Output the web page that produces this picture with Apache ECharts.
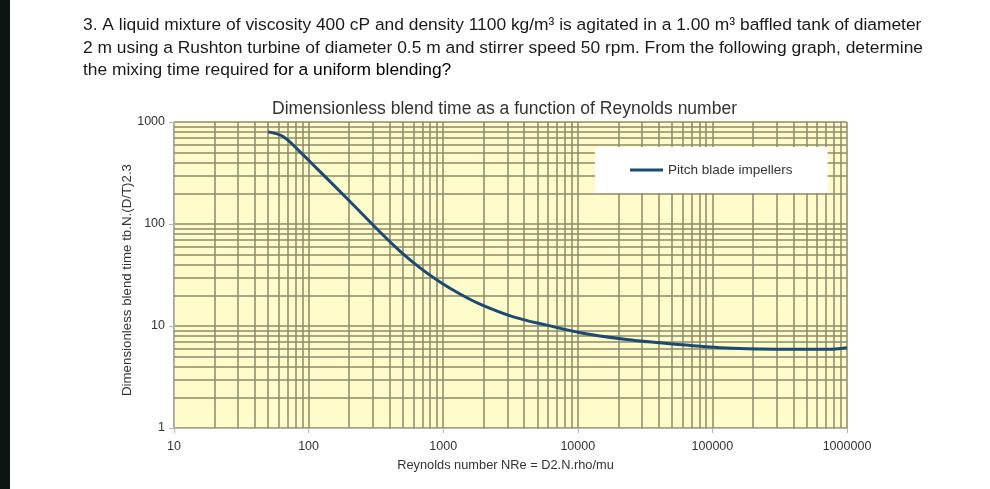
<!DOCTYPE html>
<html>
<head>
<meta charset="utf-8">
<script src="https://cdn.jsdelivr.net/npm/echarts@6/dist/echarts.min.js"></script>
<style>html,body{margin:0;padding:0;background:#fff;}#c{width:990px;height:489px;}</style>
</head>
<body>
<div id="c"></div>
<script>
// ---- data ----
const reynolds = [50, 65, 86, 115, 203, 339, 477, 673, 946, 1333, 1876, 3318, 5870, 10380, 23000, 40800, 72100, 127600, 226000, 399000, 706000, 1000000];
const blendTime = [800, 718, 512, 351, 166, 83.5, 54.3, 37.1, 27.0, 20.6, 16.4, 12.3, 10.2, 8.6, 7.39, 6.85, 6.41, 6.08, 5.95, 5.91, 5.91, 6.12];
const xMinorTicks = [20,30,40,50,60,70,80,90,200,300,400,500,600,700,800,900,2000,3000,4000,5000,6000,7000,8000,9000,20000,30000,40000,50000,60000,70000,80000,90000,200000,300000,400000,500000,600000,700000,800000,900000];
const yMinorTicks = [2,3,4,5,6,7,8,9,20,30,40,50,60,70,80,90,200,300,400,500,600,700,800,900];
const seriesName = 'Pitch blade impellers';
const questionText = '3. A liquid mixture of viscosity 400 cP and density 1100 kg/m\u00b3 is agitated in a 1.00 m\u00b3 baffled tank of diameter\n2 m using a Rushton turbine of diameter 0.5 m and stirrer speed 50 rpm. From the following graph, determine\nthe mixing time required {b|for a uniform blending?}';
const chartTitle = 'Dimensionless blend time as a function of Reynolds number';
const xName = 'Reynolds number NRe = D2.N.rho/mu';
const yName = 'Dimensionless blend time tb.N.(D/T)2.3';

const gridColor = '#8e8a68';
const font = 'Liberation Sans, Arial, sans-serif';

const chart = echarts.init(document.getElementById('c'), null, {renderer: 'canvas'});
const markX = xMinorTicks.map(v => ({xAxis: v}));
const markY = yMinorTicks.map(v => ({yAxis: v}));
const plainNum = v => String(Math.round(v));

chart.setOption({
  backgroundColor: '#ffffff',
  animation: false,
  title: [
    {
      text: questionText, left: 78, top: 9,
      textStyle: {fontFamily: font, fontSize: 17.4, fontWeight: 'normal', color: '#1a1a1a', lineHeight: 22.5,
        rich: {b: {fontFamily: font, fontSize: 17.4, color: '#000', fontWeight: 'normal', lineHeight: 22.5}}}
    },
    {
      text: chartTitle, left: 267, top: 95,
      textStyle: {fontFamily: font, fontSize: 17.5, fontWeight: 'normal', color: '#333'}
    }
  ],
  graphic: [
    {type: 'rect', left: 0, top: 0, shape: {width: 10, height: 489}, style: {fill: '#0e1412'}, z: 100}
  ],
  legend: {
    data: [{name: seriesName, icon: 'rect'}],
    left: 595, top: 147,
    z: 50, zlevel: 1,
    backgroundColor: '#ffffff',
    padding: [16, 35, 16, 35],
    itemWidth: 33, itemHeight: 3, itemGap: 4,
    textStyle: {fontFamily: font, fontSize: 13.5, color: '#333'}
  },
  grid: {left: 174, right: 143, top: 122, bottom: 61, show: true, backgroundColor: '#fefccb', borderWidth: 0},
  xAxis: {
    type: 'log', logBase: 10, min: 10, max: 1000000,
    name: xName, nameLocation: 'middle', nameGap: 31,
    nameTextStyle: {fontFamily: font, fontSize: 12.8, color: '#333', padding: [0, 10, 0, 0]},
    axisLine: {show: true, lineStyle: {color: '#b5b5b5'}},
    axisTick: {show: true, length: 5, lineStyle: {color: '#b5b5b5'}},
    axisLabel: {fontFamily: font, fontSize: 12.5, color: '#333', margin: 12, formatter: plainNum},
    splitLine: {show: true, lineStyle: {color: gridColor, width: 1.5}}
  },
  yAxis: {
    type: 'log', logBase: 10, min: 1, max: 1000,
    name: yName, nameLocation: 'middle', nameGap: 40, nameMoveOverlap: false,
    nameTextStyle: {fontFamily: font, fontSize: 13.3, color: '#333', padding: [0, 10, 0, 0]},
    axisLine: {show: true, lineStyle: {color: '#b5b5b5'}},
    axisTick: {show: true, length: 5, lineStyle: {color: '#b5b5b5'}},
    axisLabel: {fontFamily: font, fontSize: 12.5, color: '#333', margin: 9, formatter: plainNum},
    splitLine: {show: true, lineStyle: {color: gridColor, width: 1.5}}
  },
  series: [
    {
      name: 'minor grid', type: 'line', data: [], silent: true, z: 1,
      markLine: {
        silent: true, symbol: 'none', label: {show: false},
        lineStyle: {color: gridColor, width: 1.5, type: 'solid'},
        emphasis: {disabled: true},
        data: markX.concat(markY)
      }
    },
    {
      name: seriesName, type: 'line', smooth: 0.35, showSymbol: false, z: 5,
      data: reynolds.map((r, i) => [r, blendTime[i]]),
      lineStyle: {color: '#1c4a73', width: 3},
      itemStyle: {color: '#1c4a73'}
    }
  ]
});
</script>
</body>
</html>
